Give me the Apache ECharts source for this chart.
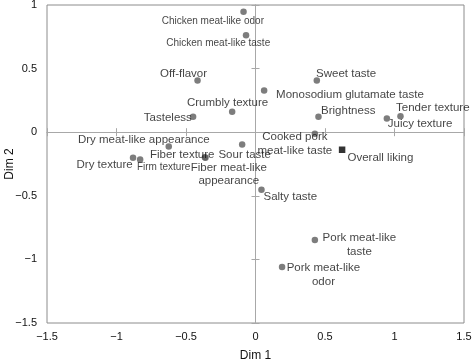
<!DOCTYPE html>
<html>
<head>
<meta charset="utf-8">
<script src="https://cdn.jsdelivr.net/npm/echarts@6/dist/echarts.min.js"></script>
<style>
html,body{margin:0;padding:0;background:#fff;}
#chart{width:474px;height:363px;}
</style>
</head>
<body>
<div id="chart"></div>
<script>
// ---- data ----
const attributeNames = [
  'Chicken meat-like odor',
  'Chicken meat-like taste',
  'Off-flavor',
  'Crumbly texture',
  'Tasteless',
  'Monosodium glutamate taste',
  'Sweet taste',
  'Brightness',
  'Tender texture',
  'Juicy texture',
  'Cooked pork\nmeat-like taste',
  'Dry meat-like appearance',
  'Fiber texture',
  'Sour taste',
  'Dry texture',
  'Firm texture',
  'Fiber meat-like\nappearance',
  'Salty taste',
  'Pork meat-like\ntaste',
  'Pork meat-like\nodor'
];
const dim1 = [-0.086, -0.068, -0.417, -0.168, -0.449, 0.062, 0.441, 0.453, 1.043, 0.945,
              0.427, -0.624, -0.364, -0.096, -0.881, -0.830, -0.360, 0.043, 0.427, 0.191];
const dim2 = [0.946, 0.762, 0.406, 0.160, 0.121, 0.328, 0.406, 0.121, 0.126, 0.108,
              -0.013, -0.112, -0.197, -0.097, -0.201, -0.214, -0.200, -0.452, -0.848, -1.060];

const likingName = ['Overall liking'];
const likingDim1 = [0.623];
const likingDim2 = [-0.138];

const axisTicks = [-1.5, -1, -0.5, 0, 0.5, 1, 1.5];

// ---- label layout (presentation only): [align, dx, dy, fontSize] ----
const labelLayout = [
  ['center', -30.7, 9.4, 10],
  ['center', -27.8, 8, 10],
  ['center', -14, -7, 11.5],
  ['center', -4.6, -8.6, 11.5],
  ['right', -1.3, 0.7, 11.5],
  ['left', 12, 4, 11.5],
  ['left', -0.7, -7, 11.5],
  ['left', 2.6, -6.3, 11.5],
  ['left', -4.4, -8.4, 11.5],
  ['left', 1, 5.7, 11.5],
  ['center', -20, 10, 11.5],
  ['center', -25, -7, 11.5],
  ['center', -22.7, -2.7, 11.5],
  ['center', 2.5, 10, 11.5],
  ['right', -0.3, 7, 11.5],
  ['center', 23.5, 7.7, 10],
  ['center', 23.3, 16.5, 11.5],
  ['left', 2, 7.4, 11.5],
  ['center', 44.5, 4.8, 11.5],
  ['center', 41.4, 7.6, 11.5]
];
const likingLayout = [['left', 5.4, 8, 11.5]];

const FONT = '"Liberation Sans", Arial, sans-serif';
const TXT = '#111';

function buildPoints(names, xs, ys, layout) {
  return names.map((n, i) => ({
    name: n,
    value: [xs[i], ys[i]],
    label: {
      show: true,
      formatter: n,
      position: 'inside',
      align: layout[i][0],
      verticalAlign: 'middle',
      offset: [layout[i][1], layout[i][2]],
      fontSize: layout[i][3],
      lineHeight: 13.5
    }
  }));
}

const fmt = v => String(v).replace('-', '\u2212');

const baseAxis = { type: 'value', min: axisTicks[0], max: axisTicks[axisTicks.length - 1], interval: 0.5 };
const GRAY = '#a8a8a8';

const option = {
  animation: false,
  backgroundColor: '#fff',
  textStyle: { fontFamily: FONT, color: TXT },
  grid: {
    left: 47, right: 10, top: 5, bottom: 40,
    show: true, borderColor: '#8c8c8c', borderWidth: 1,
    outerBoundsMode: 'none', containLabel: false
  },
  xAxis: [
    Object.assign({}, baseAxis, {
      position: 'bottom',
      axisLine: { show: false, onZero: false },
      axisTick: { show: false },
      splitLine: { show: false },
      axisLabel: { fontSize: 11, color: TXT, fontFamily: FONT, margin: 8, formatter: fmt },
      name: 'Dim 1', nameLocation: 'middle', nameGap: 27, nameMoveOverlap: false,
      nameTextStyle: { fontSize: 12, color: TXT, fontFamily: FONT }
    }),
    Object.assign({}, baseAxis, {
      position: 'bottom',
      axisLine: { show: true, onZero: true, onZeroAxisIndex: 0, lineStyle: { color: GRAY, width: 1 } },
      axisTick: { show: true, inside: false, length: 4, lineStyle: { color: GRAY } },
      axisLabel: { show: false },
      splitLine: { show: false }
    }),
    Object.assign({}, baseAxis, {
      position: 'bottom',
      axisLine: { show: true, onZero: true, onZeroAxisIndex: 0, lineStyle: { color: GRAY, width: 1 } },
      axisTick: { show: true, inside: true, length: 4, lineStyle: { color: GRAY } },
      axisLabel: { show: false },
      splitLine: { show: false }
    })
  ],
  yAxis: [
    Object.assign({}, baseAxis, {
      max: 1,
      position: 'left',
      axisLine: { show: false, onZero: false },
      axisTick: { show: false },
      splitLine: { show: false },
      axisLabel: { fontSize: 11, color: TXT, fontFamily: FONT, margin: 10, formatter: fmt },
      name: 'Dim 2', nameLocation: 'middle', nameGap: 31, nameRotate: 90, nameMoveOverlap: false,
      nameTextStyle: { fontSize: 12, color: TXT, fontFamily: FONT }
    }),
    Object.assign({}, baseAxis, {
      max: 1,
      position: 'left',
      axisLine: { show: true, onZero: true, onZeroAxisIndex: 0, lineStyle: { color: GRAY, width: 1 } },
      axisTick: { show: true, inside: false, length: 4, lineStyle: { color: GRAY } },
      axisLabel: { show: false },
      splitLine: { show: false }
    }),
    Object.assign({}, baseAxis, {
      max: 1,
      position: 'left',
      axisLine: { show: true, onZero: true, onZeroAxisIndex: 0, lineStyle: { color: GRAY, width: 1 } },
      axisTick: { show: true, inside: true, length: 4, lineStyle: { color: GRAY } },
      axisLabel: { show: false },
      splitLine: { show: false }
    })
  ],
  series: [
    {
      type: 'scatter',
      xAxisIndex: 0, yAxisIndex: 0,
      symbol: 'circle', symbolSize: 6.5,
      itemStyle: { color: '#5c5c5c' },
      label: { color: TXT, fontFamily: FONT },
      data: buildPoints(attributeNames, dim1, dim2, labelLayout),
      z: 5
    },
    {
      type: 'scatter',
      xAxisIndex: 0, yAxisIndex: 0,
      symbol: 'rect', symbolSize: 6.5,
      itemStyle: { color: '#000' },
      label: { color: TXT, fontFamily: FONT },
      data: buildPoints(likingName, likingDim1, likingDim2, likingLayout),
      z: 5
    }
  ]
};

const chart = echarts.init(document.getElementById('chart'), null, { renderer: 'canvas' });
chart.setOption(option);
</script>
</body>
</html>
